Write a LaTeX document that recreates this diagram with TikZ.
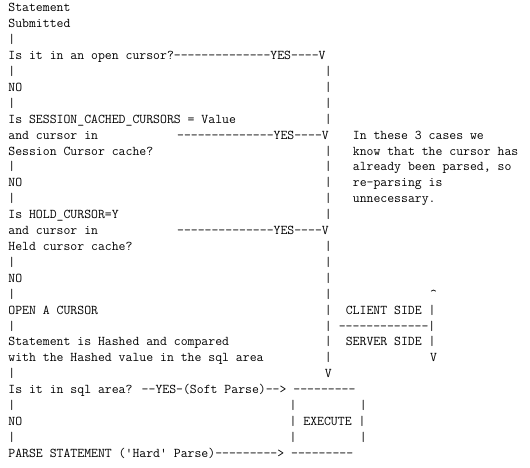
\documentclass[tikz,border=0pt]{standalone}
\usepackage{fontspec}

\newcommand\asciistyle{\ttfamily\fontsize{13.39}{15.9}\selectfont}
\newcommand\asciicharwidth{7.03}
\newcommand\asciilineheight{15.9}
\newcommand\asciitext[3]{
  \draw (8.2 + \asciicharwidth * #2, -12 - \asciilineheight * #1) node[anchor=base west, inner sep=0pt] (l#1c#2) {\asciistyle #3} ;
}

\begin{document}
\begin{tikzpicture}[x=1pt, y=1pt]
    \useasboundingbox (0, 0) rectangle (530, -468) ;
    % the three cache checks
    \asciitext{0}{0}{Statement}
    \asciitext{1}{0}{Submitted}
    \asciitext{2}{0}{|}
    \asciitext{3}{0}{Is it in an open cursor?--------------YES----V}
    \asciitext{4}{0}{|} \asciitext{4}{45}{|}
    \asciitext{5}{0}{NO} \asciitext{5}{45}{|}
    \asciitext{6}{0}{|} \asciitext{6}{45}{|}
    \asciitext{7}{0}{Is SESSION\_CACHED\_CURSORS = Value} \asciitext{7}{45}{|}
    \asciitext{8}{0}{and cursor in} \asciitext{8}{24}{--------------YES----V}
    \asciitext{9}{0}{Session Cursor cache?} \asciitext{9}{45}{|}
    \asciitext{10}{0}{|} \asciitext{10}{45}{|}
    \asciitext{11}{0}{NO} \asciitext{11}{45}{|}
    \asciitext{12}{0}{|} \asciitext{12}{45}{|}
    \asciitext{13}{0}{Is HOLD\_CURSOR=Y} \asciitext{13}{45}{|}
    \asciitext{14}{0}{and cursor in} \asciitext{14}{24}{--------------YES----V}
    \asciitext{15}{0}{Held cursor cache?} \asciitext{15}{45}{|}
    \asciitext{16}{0}{|} \asciitext{16}{45}{|}
    \asciitext{17}{0}{NO} \asciitext{17}{45}{|}
    % note on the right
    \asciitext{8}{49}{In these 3 cases we}
    \asciitext{9}{49}{know that the cursor has}
    \asciitext{10}{49}{already been parsed, so}
    \asciitext{11}{49}{re-parsing is}
    \asciitext{12}{49}{unnecessary.}
    % client / server
    \asciitext{18}{0}{|} \asciitext{18}{45}{|} \asciitext{18}{60}{\textasciicircum}
    \asciitext{19}{0}{OPEN A CURSOR} \asciitext{19}{45}{|} \asciitext{19}{48}{CLIENT SIDE |}
    \asciitext{20}{0}{|} \asciitext{20}{45}{|} \asciitext{20}{47}{-------------|}
    \asciitext{21}{0}{Statement is Hashed and compared} \asciitext{21}{45}{|} \asciitext{21}{48}{SERVER SIDE |}
    \asciitext{22}{0}{with the Hashed value in the sql area} \asciitext{22}{45}{|} \asciitext{22}{60}{V}
    \asciitext{23}{0}{|} \asciitext{23}{45}{V}
    % parse and execute
    \asciitext{24}{0}{Is it in sql area? --YES-(Soft Parse)--> ---------}
    \asciitext{25}{0}{|} \asciitext{25}{40}{|} \asciitext{25}{50}{|}
    \asciitext{26}{0}{NO} \asciitext{26}{40}{| EXECUTE |}
    \asciitext{27}{0}{|} \asciitext{27}{40}{|} \asciitext{27}{50}{|}
    \asciitext{28}{0}{PARSE STATEMENT ('Hard' Parse)---------> ---------}
\end{tikzpicture}
\end{document}
